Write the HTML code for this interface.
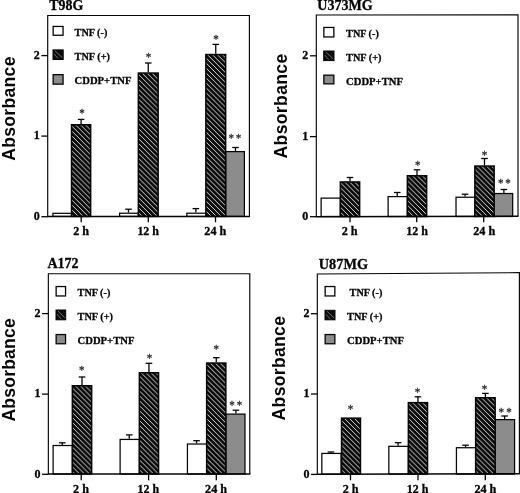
<!DOCTYPE html>
<html lang="en">
<head>
<meta charset="utf-8">
<title>TNF absorbance in glioma cell lines</title>
<style>
html,body{margin:0;padding:0;background:#fff;}
body{width:520px;height:493px;overflow:hidden;}
svg{display:block;}
.ser{font-family:"Liberation Serif", "DejaVu Serif", serif;font-weight:bold;fill:#050505;stroke:#050505;stroke-width:0.3px;}
.san{font-family:"Liberation Sans", "DejaVu Sans", sans-serif;font-weight:bold;fill:#050505;}
.ast{font-family:"Liberation Serif", "DejaVu Serif", serif;font-weight:normal;fill:#222;stroke:#222;stroke-width:0.25px;}
</style>
</head>
<body>
<svg width="520" height="493" viewBox="0 0 520 493">
<defs>
<pattern id="hatch" width="4.93" height="4.93" patternUnits="userSpaceOnUse">
<rect width="4.93" height="4.93" fill="#0c0c0c"/>
<path d="M-1,-1 L6,6 M-1,3.93 L1,5.93 M3.93,-1 L5.93,1" stroke="#eaeaea" stroke-width="0.9" fill="none"/>
</pattern>
</defs>
<rect width="520" height="493" fill="#fff"/>

<g id="panel-T98G">
<rect x="52.92" y="213.32" width="18.65" height="3.08" fill="#fff" stroke="#050505" stroke-width="1.25"/>
<line x1="81.10" y1="124.00" x2="81.10" y2="119.40" stroke="#050505" stroke-width="1.3"/><line x1="77.80" y1="119.40" x2="84.40" y2="119.40" stroke="#050505" stroke-width="1.3"/>
<rect x="71.55" y="124.75" width="19.10" height="91.65" fill="url(#hatch)" stroke="#050505" stroke-width="1.5"/>
<text class="ast" transform="translate(82.00,111.00) scale(0.92,1.12)" y="5.05" font-size="12" text-anchor="middle">*</text>
<line x1="128.50" y1="212.60" x2="128.50" y2="209.20" stroke="#050505" stroke-width="1.3"/><line x1="125.20" y1="209.20" x2="131.80" y2="209.20" stroke="#050505" stroke-width="1.3"/>
<rect x="119.62" y="213.22" width="18.75" height="3.18" fill="#fff" stroke="#050505" stroke-width="1.25"/>
<line x1="148.25" y1="72.30" x2="148.25" y2="63.00" stroke="#050505" stroke-width="1.3"/><line x1="144.95" y1="63.00" x2="151.55" y2="63.00" stroke="#050505" stroke-width="1.3"/>
<rect x="138.35" y="73.05" width="19.80" height="143.35" fill="url(#hatch)" stroke="#050505" stroke-width="1.5"/>
<text class="ast" transform="translate(148.40,55.80) scale(0.92,1.12)" y="5.05" font-size="12" text-anchor="middle">*</text>
<line x1="195.85" y1="212.60" x2="195.85" y2="208.60" stroke="#050505" stroke-width="1.3"/><line x1="192.55" y1="208.60" x2="199.15" y2="208.60" stroke="#050505" stroke-width="1.3"/>
<rect x="186.82" y="213.22" width="19.05" height="3.18" fill="#fff" stroke="#050505" stroke-width="1.25"/>
<line x1="235.50" y1="151.00" x2="235.50" y2="147.50" stroke="#050505" stroke-width="1.3"/><line x1="232.20" y1="147.50" x2="238.80" y2="147.50" stroke="#050505" stroke-width="1.3"/>
<rect x="225.62" y="151.62" width="18.75" height="64.78" fill="#8c8c8c" stroke="#050505" stroke-width="1.25"/>
<line x1="215.75" y1="53.80" x2="215.75" y2="44.40" stroke="#050505" stroke-width="1.3"/><line x1="212.45" y1="44.40" x2="219.05" y2="44.40" stroke="#050505" stroke-width="1.3"/>
<rect x="205.85" y="54.55" width="19.80" height="161.85" fill="url(#hatch)" stroke="#050505" stroke-width="1.5"/>
<text class="ast" transform="translate(216.00,37.60) scale(0.92,1.12)" y="5.05" font-size="12" text-anchor="middle">*</text>
<text class="ast" transform="translate(231.30,136.00) scale(0.92,1.12)" y="5.05" font-size="12" text-anchor="middle">*</text>
<text class="ast" transform="translate(238.60,136.00) scale(0.92,1.12)" y="5.05" font-size="12" text-anchor="middle">*</text>
<path d="M47.7,216.4 L47.7,15.5 L249.4,15.5 L249.4,216.4" fill="none" stroke="#050505" stroke-width="1.15" stroke-linejoin="miter"/>
<line x1="47.20" y1="216.40" x2="249.90" y2="216.40" stroke="#050505" stroke-width="1.5"/>
<line x1="41.40" y1="55.60" x2="47.70" y2="55.60" stroke="#050505" stroke-width="1.3"/>
<text class="ser" x="39.8" y="58.85" font-size="12" text-anchor="end">2</text>
<line x1="41.40" y1="136.10" x2="47.70" y2="136.10" stroke="#050505" stroke-width="1.3"/>
<text class="ser" x="39.8" y="139.35" font-size="12" text-anchor="end">1</text>
<line x1="41.40" y1="216.70" x2="47.70" y2="216.70" stroke="#050505" stroke-width="1.3"/>
<text class="ser" x="39.8" y="219.95" font-size="12" text-anchor="end">0</text>
<line x1="81.20" y1="216.40" x2="81.20" y2="222.30" stroke="#050505" stroke-width="1.3"/>
<text class="ser" x="73.25" y="235.0" font-size="12" textLength="15.9" lengthAdjust="spacingAndGlyphs">2 h</text>
<line x1="148.30" y1="216.40" x2="148.30" y2="222.30" stroke="#050505" stroke-width="1.3"/>
<text class="ser" x="137.40" y="235.0" font-size="12" textLength="21.6" lengthAdjust="spacingAndGlyphs">12 h</text>
<line x1="215.50" y1="216.40" x2="215.50" y2="222.30" stroke="#050505" stroke-width="1.3"/>
<text class="ser" x="204.30" y="235.0" font-size="12" textLength="22.0" lengthAdjust="spacingAndGlyphs">24 h</text>
<text class="ser" x="49.2" y="9.8" font-size="14" textLength="34.1" lengthAdjust="spacingAndGlyphs">T98G</text>
<rect x="53.15" y="26.45" width="9.90" height="8.80" fill="#fff" stroke="#050505" stroke-width="1.3"/>
<text class="ser" x="74.6" y="36" font-size="11.3" textLength="32.7" lengthAdjust="spacingAndGlyphs">TNF (-)</text>
<rect x="53.00" y="49.90" width="10.20" height="9.60" fill="#0c0c0c" stroke="#050505" stroke-width="1"/>
<path d="M55.00,50.90 L62.20,57.50 M54.00,53.90 L58.00,58.50" stroke="#777" stroke-width="0.9" fill="none"/>
<text class="ser" x="74.6" y="60" font-size="11.3" textLength="35.4" lengthAdjust="spacingAndGlyphs">TNF (+)</text>
<rect x="53.15" y="74.65" width="9.90" height="9.50" fill="#8c8c8c" stroke="#050505" stroke-width="1.3"/>
<text class="ser" x="74.6" y="83.9" font-size="11.3" textLength="56.8" lengthAdjust="spacingAndGlyphs">CDDP+TNF</text>
<text class="san" transform="translate(15.0,160.8) rotate(-90)" font-size="17.6" textLength="104.3" lengthAdjust="spacing">Absorbance</text>
</g>
<g id="panel-U373MG">
<rect x="321.12" y="198.12" width="19.25" height="18.38" fill="#fff" stroke="#050505" stroke-width="1.25"/>
<line x1="350.00" y1="181.20" x2="350.00" y2="177.50" stroke="#050505" stroke-width="1.3"/><line x1="346.70" y1="177.50" x2="353.30" y2="177.50" stroke="#050505" stroke-width="1.3"/>
<rect x="340.35" y="181.95" width="19.30" height="34.55" fill="url(#hatch)" stroke="#050505" stroke-width="1.5"/>
<line x1="397.25" y1="196.00" x2="397.25" y2="192.50" stroke="#050505" stroke-width="1.3"/><line x1="393.95" y1="192.50" x2="400.55" y2="192.50" stroke="#050505" stroke-width="1.3"/>
<rect x="388.12" y="196.62" width="19.25" height="19.88" fill="#fff" stroke="#050505" stroke-width="1.25"/>
<line x1="417.00" y1="175.00" x2="417.00" y2="169.80" stroke="#050505" stroke-width="1.3"/><line x1="413.70" y1="169.80" x2="420.30" y2="169.80" stroke="#050505" stroke-width="1.3"/>
<rect x="407.35" y="175.75" width="19.30" height="40.75" fill="url(#hatch)" stroke="#050505" stroke-width="1.5"/>
<text class="ast" transform="translate(417.70,163.30) scale(0.92,1.12)" y="5.05" font-size="12" text-anchor="middle">*</text>
<line x1="465.05" y1="196.60" x2="465.05" y2="194.20" stroke="#050505" stroke-width="1.3"/><line x1="461.75" y1="194.20" x2="468.35" y2="194.20" stroke="#050505" stroke-width="1.3"/>
<rect x="456.02" y="197.22" width="19.05" height="19.28" fill="#fff" stroke="#050505" stroke-width="1.25"/>
<line x1="503.90" y1="192.90" x2="503.90" y2="189.50" stroke="#050505" stroke-width="1.3"/><line x1="500.60" y1="189.50" x2="507.20" y2="189.50" stroke="#050505" stroke-width="1.3"/>
<rect x="494.12" y="193.53" width="18.55" height="22.97" fill="#8c8c8c" stroke="#050505" stroke-width="1.25"/>
<line x1="484.50" y1="165.30" x2="484.50" y2="158.50" stroke="#050505" stroke-width="1.3"/><line x1="481.20" y1="158.50" x2="487.80" y2="158.50" stroke="#050505" stroke-width="1.3"/>
<rect x="474.85" y="166.05" width="19.30" height="50.45" fill="url(#hatch)" stroke="#050505" stroke-width="1.5"/>
<text class="ast" transform="translate(484.50,153.10) scale(0.92,1.12)" y="5.05" font-size="12" text-anchor="middle">*</text>
<text class="ast" transform="translate(500.70,181.00) scale(0.92,1.12)" y="5.05" font-size="12" text-anchor="middle">*</text>
<text class="ast" transform="translate(508.00,181.00) scale(0.92,1.12)" y="5.05" font-size="12" text-anchor="middle">*</text>
<path d="M316.3,216.65 L316.3,15.0 L518.0,14.9 L518.0,216.3" fill="none" stroke="#050505" stroke-width="1.15" stroke-linejoin="miter"/>
<line x1="315.80" y1="216.65" x2="518.50" y2="216.30" stroke="#050505" stroke-width="1.5"/>
<line x1="310.00" y1="55.80" x2="316.30" y2="55.80" stroke="#050505" stroke-width="1.3"/>
<text class="ser" x="308.2" y="59.05" font-size="12" text-anchor="end">2</text>
<line x1="310.00" y1="136.60" x2="316.30" y2="136.60" stroke="#050505" stroke-width="1.3"/>
<text class="ser" x="308.2" y="139.85" font-size="12" text-anchor="end">1</text>
<line x1="310.00" y1="216.70" x2="316.30" y2="216.70" stroke="#050505" stroke-width="1.3"/>
<text class="ser" x="308.2" y="219.95" font-size="12" text-anchor="end">0</text>
<line x1="350.00" y1="216.50" x2="350.00" y2="222.30" stroke="#050505" stroke-width="1.3"/>
<text class="ser" x="341.75" y="235.0" font-size="12" textLength="15.9" lengthAdjust="spacingAndGlyphs">2 h</text>
<line x1="416.70" y1="216.50" x2="416.70" y2="222.30" stroke="#050505" stroke-width="1.3"/>
<text class="ser" x="406.30" y="235.0" font-size="12" textLength="21.6" lengthAdjust="spacingAndGlyphs">12 h</text>
<line x1="483.70" y1="216.50" x2="483.70" y2="222.30" stroke="#050505" stroke-width="1.3"/>
<text class="ser" x="473.25" y="235.0" font-size="12" textLength="22.0" lengthAdjust="spacingAndGlyphs">24 h</text>
<text class="ser" x="317.3" y="10.1" font-size="14" textLength="55.4" lengthAdjust="spacingAndGlyphs">U373MG</text>
<rect x="323.85" y="27.45" width="10.00" height="9.50" fill="#fff" stroke="#050505" stroke-width="1.3"/>
<text class="ser" x="346.1" y="37.2" font-size="11.3" textLength="32.7" lengthAdjust="spacingAndGlyphs">TNF (-)</text>
<rect x="323.70" y="51.00" width="10.30" height="9.60" fill="#0c0c0c" stroke="#050505" stroke-width="1"/>
<path d="M325.70,52.00 L333.00,58.60 M324.70,55.00 L328.70,59.60" stroke="#777" stroke-width="0.9" fill="none"/>
<text class="ser" x="346.1" y="61" font-size="11.3" textLength="35.4" lengthAdjust="spacingAndGlyphs">TNF (+)</text>
<rect x="323.85" y="75.15" width="10.00" height="8.70" fill="#8c8c8c" stroke="#050505" stroke-width="1.3"/>
<text class="ser" x="346.1" y="84.6" font-size="11.3" textLength="56.8" lengthAdjust="spacingAndGlyphs">CDDP+TNF</text>
<text class="san" transform="translate(286.6,158.5) rotate(-90)" font-size="17.6" textLength="104.8" lengthAdjust="spacing">Absorbance</text>
</g>
<g id="panel-A172">
<line x1="62.25" y1="444.90" x2="62.25" y2="442.80" stroke="#050505" stroke-width="1.3"/><line x1="58.95" y1="442.80" x2="65.55" y2="442.80" stroke="#050505" stroke-width="1.3"/>
<rect x="53.12" y="445.52" width="19.25" height="28.48" fill="#fff" stroke="#050505" stroke-width="1.25"/>
<line x1="82.00" y1="385.00" x2="82.00" y2="377.00" stroke="#050505" stroke-width="1.3"/><line x1="78.70" y1="377.00" x2="85.30" y2="377.00" stroke="#050505" stroke-width="1.3"/>
<rect x="72.35" y="385.75" width="19.30" height="88.25" fill="url(#hatch)" stroke="#050505" stroke-width="1.5"/>
<text class="ast" transform="translate(81.80,368.30) scale(0.92,1.12)" y="5.05" font-size="12" text-anchor="middle">*</text>
<line x1="129.25" y1="438.80" x2="129.25" y2="434.90" stroke="#050505" stroke-width="1.3"/><line x1="125.95" y1="434.90" x2="132.55" y2="434.90" stroke="#050505" stroke-width="1.3"/>
<rect x="120.12" y="439.43" width="19.25" height="34.57" fill="#fff" stroke="#050505" stroke-width="1.25"/>
<line x1="148.95" y1="372.00" x2="148.95" y2="363.30" stroke="#050505" stroke-width="1.3"/><line x1="145.65" y1="363.30" x2="152.25" y2="363.30" stroke="#050505" stroke-width="1.3"/>
<rect x="139.35" y="372.75" width="19.20" height="101.25" fill="url(#hatch)" stroke="#050505" stroke-width="1.5"/>
<text class="ast" transform="translate(149.40,356.40) scale(0.92,1.12)" y="5.05" font-size="12" text-anchor="middle">*</text>
<line x1="196.55" y1="443.40" x2="196.55" y2="440.70" stroke="#050505" stroke-width="1.3"/><line x1="193.25" y1="440.70" x2="199.85" y2="440.70" stroke="#050505" stroke-width="1.3"/>
<rect x="187.43" y="444.02" width="19.25" height="29.98" fill="#fff" stroke="#050505" stroke-width="1.25"/>
<line x1="235.90" y1="413.50" x2="235.90" y2="410.20" stroke="#050505" stroke-width="1.3"/><line x1="232.60" y1="410.20" x2="239.20" y2="410.20" stroke="#050505" stroke-width="1.3"/>
<rect x="225.82" y="414.12" width="19.15" height="59.88" fill="#8c8c8c" stroke="#050505" stroke-width="1.25"/>
<line x1="216.25" y1="362.30" x2="216.25" y2="357.70" stroke="#050505" stroke-width="1.3"/><line x1="212.95" y1="357.70" x2="219.55" y2="357.70" stroke="#050505" stroke-width="1.3"/>
<rect x="206.65" y="363.05" width="19.20" height="110.95" fill="url(#hatch)" stroke="#050505" stroke-width="1.5"/>
<text class="ast" transform="translate(216.15,347.20) scale(0.92,1.12)" y="5.05" font-size="12" text-anchor="middle">*</text>
<text class="ast" transform="translate(232.10,403.40) scale(0.92,1.12)" y="5.05" font-size="12" text-anchor="middle">*</text>
<text class="ast" transform="translate(239.40,403.40) scale(0.92,1.12)" y="5.05" font-size="12" text-anchor="middle">*</text>
<path d="M48.35,474.0 L48.35,273.7 L249.8,273.7 L249.8,474.0" fill="none" stroke="#050505" stroke-width="1.15" stroke-linejoin="miter"/>
<line x1="47.85" y1="474.00" x2="250.30" y2="474.00" stroke="#050505" stroke-width="1.5"/>
<line x1="42.05" y1="313.60" x2="48.35" y2="313.60" stroke="#050505" stroke-width="1.3"/>
<text class="ser" x="40.4" y="316.85" font-size="12" text-anchor="end">2</text>
<line x1="42.05" y1="394.10" x2="48.35" y2="394.10" stroke="#050505" stroke-width="1.3"/>
<text class="ser" x="40.4" y="397.35" font-size="12" text-anchor="end">1</text>
<line x1="42.05" y1="474.30" x2="48.35" y2="474.30" stroke="#050505" stroke-width="1.3"/>
<text class="ser" x="40.4" y="477.55" font-size="12" text-anchor="end">0</text>
<line x1="81.20" y1="474.00" x2="81.20" y2="480.30" stroke="#050505" stroke-width="1.3"/>
<text class="ser" x="73.05" y="492.7" font-size="12" textLength="15.9" lengthAdjust="spacingAndGlyphs">2 h</text>
<line x1="148.60" y1="474.00" x2="148.60" y2="480.30" stroke="#050505" stroke-width="1.3"/>
<text class="ser" x="137.50" y="492.7" font-size="12" textLength="21.6" lengthAdjust="spacingAndGlyphs">12 h</text>
<line x1="216.30" y1="474.00" x2="216.30" y2="480.30" stroke="#050505" stroke-width="1.3"/>
<text class="ser" x="205.10" y="492.7" font-size="12" textLength="22.0" lengthAdjust="spacingAndGlyphs">24 h</text>
<text class="ser" x="47.5" y="268.4" font-size="14" textLength="31.1" lengthAdjust="spacingAndGlyphs">A172</text>
<rect x="56.15" y="286.55" width="9.40" height="9.40" fill="#fff" stroke="#050505" stroke-width="1.3"/>
<text class="ser" x="77.6" y="296.3" font-size="11.3" textLength="32.7" lengthAdjust="spacingAndGlyphs">TNF (-)</text>
<rect x="56.00" y="310.00" width="9.70" height="9.80" fill="#0c0c0c" stroke="#050505" stroke-width="1"/>
<path d="M58.00,311.00 L64.70,317.80 M57.00,314.00 L61.00,318.80" stroke="#777" stroke-width="0.9" fill="none"/>
<text class="ser" x="77.6" y="320.2" font-size="11.3" textLength="35.4" lengthAdjust="spacingAndGlyphs">TNF (+)</text>
<rect x="56.15" y="334.55" width="9.40" height="9.20" fill="#8c8c8c" stroke="#050505" stroke-width="1.3"/>
<text class="ser" x="77.6" y="344.2" font-size="11.3" textLength="56.8" lengthAdjust="spacingAndGlyphs">CDDP+TNF</text>
<text class="san" transform="translate(14.8,421.5) rotate(-90)" font-size="17.6" textLength="103.2" lengthAdjust="spacing">Absorbance</text>
</g>
<g id="panel-U87MG">
<line x1="330.95" y1="452.80" x2="330.95" y2="452.00" stroke="#050505" stroke-width="1.3"/><line x1="327.65" y1="452.00" x2="334.25" y2="452.00" stroke="#050505" stroke-width="1.3"/>
<rect x="321.82" y="453.43" width="19.25" height="20.68" fill="#fff" stroke="#050505" stroke-width="1.25"/>
<rect x="341.55" y="418.15" width="18.90" height="55.95" fill="url(#hatch)" stroke="#050505" stroke-width="1.5"/>
<text class="ast" transform="translate(350.40,407.30) scale(0.92,1.12)" y="5.05" font-size="12" text-anchor="middle">*</text>
<line x1="398.10" y1="445.70" x2="398.10" y2="442.70" stroke="#050505" stroke-width="1.3"/><line x1="394.80" y1="442.70" x2="401.40" y2="442.70" stroke="#050505" stroke-width="1.3"/>
<rect x="388.82" y="446.32" width="19.55" height="27.78" fill="#fff" stroke="#050505" stroke-width="1.25"/>
<line x1="417.95" y1="401.90" x2="417.95" y2="396.80" stroke="#050505" stroke-width="1.3"/><line x1="414.65" y1="396.80" x2="421.25" y2="396.80" stroke="#050505" stroke-width="1.3"/>
<rect x="408.35" y="402.65" width="19.20" height="71.45" fill="url(#hatch)" stroke="#050505" stroke-width="1.5"/>
<text class="ast" transform="translate(417.60,390.20) scale(0.92,1.12)" y="5.05" font-size="12" text-anchor="middle">*</text>
<line x1="465.55" y1="447.10" x2="465.55" y2="445.20" stroke="#050505" stroke-width="1.3"/><line x1="462.25" y1="445.20" x2="468.85" y2="445.20" stroke="#050505" stroke-width="1.3"/>
<rect x="456.43" y="447.73" width="19.25" height="26.38" fill="#fff" stroke="#050505" stroke-width="1.25"/>
<line x1="504.60" y1="419.00" x2="504.60" y2="416.00" stroke="#050505" stroke-width="1.3"/><line x1="501.30" y1="416.00" x2="507.90" y2="416.00" stroke="#050505" stroke-width="1.3"/>
<rect x="495.12" y="419.62" width="19.45" height="54.48" fill="#8c8c8c" stroke="#050505" stroke-width="1.25"/>
<line x1="485.40" y1="397.00" x2="485.40" y2="393.40" stroke="#050505" stroke-width="1.3"/><line x1="482.10" y1="393.40" x2="488.70" y2="393.40" stroke="#050505" stroke-width="1.3"/>
<rect x="475.65" y="397.75" width="19.50" height="76.35" fill="url(#hatch)" stroke="#050505" stroke-width="1.5"/>
<text class="ast" transform="translate(484.60,387.80) scale(0.92,1.12)" y="5.05" font-size="12" text-anchor="middle">*</text>
<text class="ast" transform="translate(501.30,409.90) scale(0.92,1.12)" y="5.05" font-size="12" text-anchor="middle">*</text>
<text class="ast" transform="translate(508.90,409.90) scale(0.92,1.12)" y="5.05" font-size="12" text-anchor="middle">*</text>
<path d="M317.3,474.35 L317.3,274.0 L519.4,272.7 L519.4,473.75" fill="none" stroke="#050505" stroke-width="1.15" stroke-linejoin="miter"/>
<line x1="316.80" y1="474.35" x2="519.90" y2="473.75" stroke="#050505" stroke-width="1.5"/>
<line x1="311.00" y1="313.70" x2="317.30" y2="313.70" stroke="#050505" stroke-width="1.3"/>
<text class="ser" x="309.4" y="316.95" font-size="12" text-anchor="end">2</text>
<line x1="311.00" y1="394.00" x2="317.30" y2="394.00" stroke="#050505" stroke-width="1.3"/>
<text class="ser" x="309.4" y="397.25" font-size="12" text-anchor="end">1</text>
<line x1="311.00" y1="474.40" x2="317.30" y2="474.40" stroke="#050505" stroke-width="1.3"/>
<text class="ser" x="309.4" y="477.65" font-size="12" text-anchor="end">0</text>
<line x1="350.50" y1="474.10" x2="350.50" y2="480.30" stroke="#050505" stroke-width="1.3"/>
<text class="ser" x="342.65" y="492.7" font-size="12" textLength="15.9" lengthAdjust="spacingAndGlyphs">2 h</text>
<line x1="418.00" y1="474.10" x2="418.00" y2="480.30" stroke="#050505" stroke-width="1.3"/>
<text class="ser" x="406.70" y="492.7" font-size="12" textLength="21.6" lengthAdjust="spacingAndGlyphs">12 h</text>
<line x1="485.30" y1="474.10" x2="485.30" y2="480.30" stroke="#050505" stroke-width="1.3"/>
<text class="ser" x="474.40" y="492.7" font-size="12" textLength="22.0" lengthAdjust="spacingAndGlyphs">24 h</text>
<text class="ser" x="318.8" y="269.4" font-size="14" textLength="49.2" lengthAdjust="spacingAndGlyphs">U87MG</text>
<rect x="325.15" y="286.55" width="9.70" height="9.40" fill="#fff" stroke="#050505" stroke-width="1.3"/>
<text class="ser" x="349.6" y="296.2" font-size="11.3" textLength="32.7" lengthAdjust="spacingAndGlyphs">TNF (-)</text>
<rect x="325.00" y="310.30" width="10.00" height="9.50" fill="#0c0c0c" stroke="#050505" stroke-width="1"/>
<path d="M327.00,311.30 L334.00,317.80 M326.00,314.30 L330.00,318.80" stroke="#777" stroke-width="0.9" fill="none"/>
<text class="ser" x="347.1" y="320" font-size="11.3" textLength="35.4" lengthAdjust="spacingAndGlyphs">TNF (+)</text>
<rect x="325.15" y="334.55" width="9.70" height="9.20" fill="#8c8c8c" stroke="#050505" stroke-width="1.3"/>
<text class="ser" x="347.1" y="343.9" font-size="11.3" textLength="56.8" lengthAdjust="spacingAndGlyphs">CDDP+TNF</text>
<text class="san" transform="translate(285.0,420.4) rotate(-90)" font-size="17.6" textLength="104.4" lengthAdjust="spacing">Absorbance</text>
</g>
</svg>
</body>
</html>
